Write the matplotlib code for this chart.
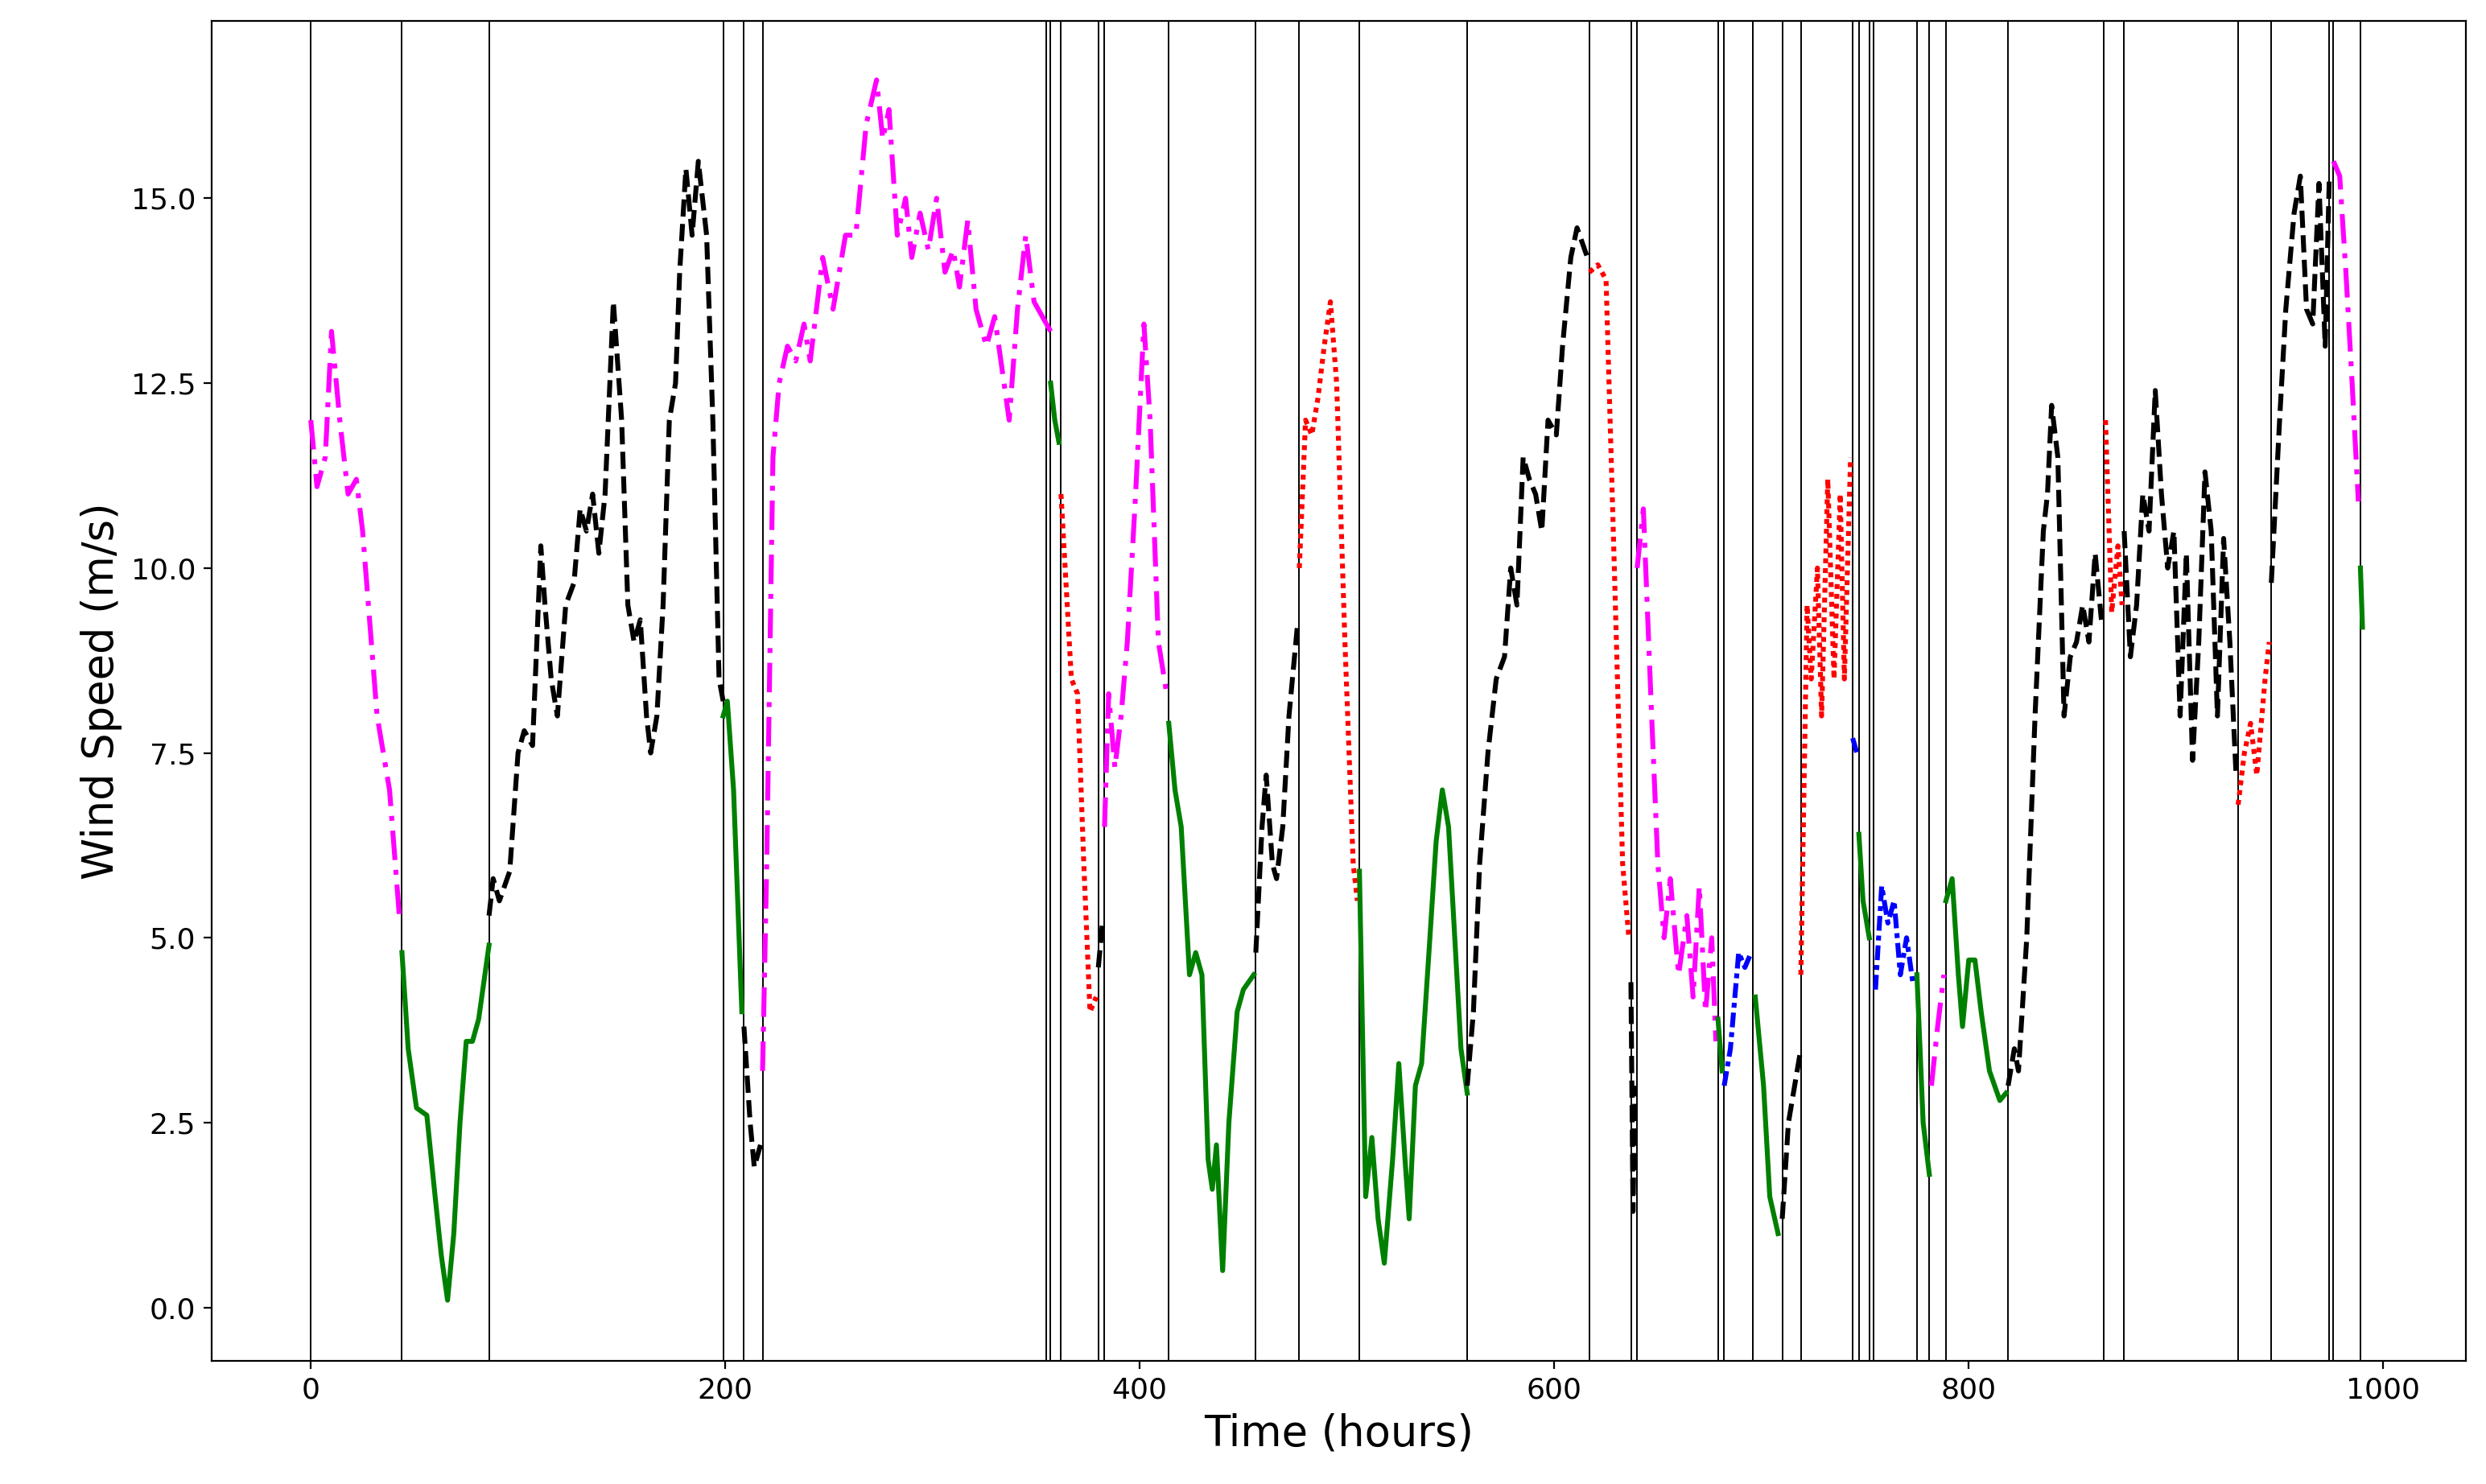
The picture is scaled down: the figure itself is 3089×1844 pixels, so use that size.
import matplotlib
matplotlib.use("Agg")
import matplotlib.pyplot as plt

# regime boundaries (hours)
boundaries = [0, 44, 86, 199, 209, 218, 355, 357, 362, 380, 383, 414, 456, 477, 506,
              558, 617, 637, 640, 679, 682, 696, 710, 719, 744, 747, 752, 754, 775,
              781, 789, 819, 865, 875, 930, 946, 974, 976, 989]

# each segment: (regime, hours, wind speed)
segments = [
    ("m", [0, 3, 7, 10, 14, 18, 22, 25, 32, 38, 43],
          [12.0, 11.1, 11.5, 13.2, 12.0, 11.0, 11.2, 10.5, 8.0, 7.0, 5.2]),
    ("g", [44, 47, 51, 56, 60, 63, 66, 69, 72, 75, 78, 81, 84, 86],
          [4.8, 3.5, 2.7, 2.6, 1.5, 0.7, 0.1, 1.0, 2.5, 3.6, 3.6, 3.9, 4.5, 4.9]),
    ("k", [86, 88, 91, 96, 100, 103, 107, 111, 113, 116, 119, 123, 127, 130, 133, 136, 139,
           142, 146, 150, 153, 156, 159, 162, 164, 167, 170, 173, 176, 178, 181, 184, 187,
           191, 194, 197, 199],
          [5.3, 5.8, 5.5, 5.9, 7.5, 7.8, 7.6, 10.3, 9.5, 8.5, 8.0, 9.5, 9.8, 10.8, 10.5, 11.0,
           10.2, 11.0, 13.6, 12.0, 9.5, 9.0, 9.3, 8.0, 7.5, 8.0, 9.5, 12.0, 12.5, 14.0, 15.4,
           14.5, 15.5, 14.5, 12.0, 8.5, 8.2]),
    ("g", [199, 201, 204, 208], [8.0, 8.2, 7.0, 4.0]),
    ("k", [209, 212, 214, 217], [3.8, 2.5, 1.9, 2.2]),
    ("m", [218, 220, 223, 226, 230, 234, 238, 241, 247, 252, 258, 263, 268, 273, 276, 279,
           283, 287, 290, 294, 298, 302, 306, 310, 313, 317, 321, 326, 330, 337, 341, 345,
           349, 355],
          [3.2, 6.0, 11.5, 12.5, 13.0, 12.8, 13.3, 12.8, 14.2, 13.5, 14.5, 14.5, 16.0, 16.6,
           15.8, 16.2, 14.5, 15.0, 14.2, 14.8, 14.3, 15.0, 14.0, 14.3, 13.8, 14.7, 13.5, 13.0,
           13.4, 12.0, 13.5, 14.5, 13.6, 13.3]),
    ("m", [355, 357], [13.3, 13.2]),
    ("g", [357, 359, 361], [12.5, 12.0, 11.7]),
    ("r", [362, 364, 367, 370, 373, 376, 379], [11.0, 10.0, 8.5, 8.3, 6.0, 4.0, 4.2]),
    ("k", [380, 382], [4.6, 5.2]),
    ("m", [383, 385, 388, 391, 394, 398, 402, 405, 409, 413],
          [6.5, 8.3, 7.3, 8.0, 9.0, 11.0, 13.3, 12.0, 9.0, 8.3]),
    ("g", [414, 417, 420, 424, 427, 430, 433, 435, 437, 440, 443, 447, 450, 455],
          [7.9, 7.0, 6.5, 4.5, 4.8, 4.5, 2.0, 1.6, 2.2, 0.5, 2.5, 4.0, 4.3, 4.5]),
    ("k", [456, 459, 461, 464, 466, 469, 472, 476], [4.8, 6.5, 7.2, 6.0, 5.8, 6.5, 8.0, 9.2]),
    ("r", [477, 480, 483, 486, 489, 492, 495, 499, 503, 505],
          [10.0, 12.0, 11.8, 12.3, 13.0, 13.6, 12.5, 9.0, 6.0, 5.5]),
    ("g", [506, 509, 512, 515, 518, 522, 525, 528, 530, 533, 536, 540, 543, 546, 549, 552,
           555, 558],
          [5.9, 1.5, 2.3, 1.2, 0.6, 2.0, 3.3, 2.0, 1.2, 3.0, 3.3, 5.0, 6.3, 7.0, 6.5, 5.0,
           3.5, 2.9]),
    ("k", [558, 561, 564, 568, 572, 576, 579, 582, 585, 588, 591, 594, 597, 601, 604, 608,
           611, 616],
          [3.0, 4.0, 6.0, 7.5, 8.5, 8.8, 10.0, 9.5, 11.5, 11.2, 11.0, 10.5, 12.0, 11.8, 13.0,
           14.2, 14.6, 14.2]),
    ("r", [617, 621, 625, 629, 633, 636], [14.0, 14.1, 13.9, 10.0, 6.0, 5.0]),
    ("k", [637, 638, 639], [4.4, 1.3, 3.0]),
    ("m", [640, 643, 647, 650, 653, 656, 660, 664, 667, 670, 673, 676, 678],
          [10.0, 10.8, 8.0, 6.0, 5.0, 5.8, 4.5, 5.3, 4.2, 5.7, 4.0, 5.0, 3.6]),
    ("g", [679, 681], [3.9, 3.2]),
    ("b", [682, 685, 689, 692, 695], [3.0, 3.5, 4.8, 4.6, 4.8]),
    ("g", [697, 701, 704, 708], [4.2, 3.0, 1.5, 1.0]),
    ("k", [710, 713, 716, 719], [1.2, 2.5, 3.0, 3.5]),
    ("r", [719, 722, 724, 727, 729, 732, 735, 738, 740, 743],
          [4.5, 9.5, 8.5, 10.0, 8.0, 11.2, 8.5, 11.0, 8.5, 11.5]),
    ("b", [744, 746], [7.7, 7.5]),
    ("g", [747, 749, 752], [6.4, 5.5, 5.0]),
    ("b", [755, 758, 761, 764, 767, 770, 773], [4.3, 5.7, 5.2, 5.5, 4.5, 5.0, 4.4]),
    ("g", [775, 778, 781], [4.5, 2.5, 1.8]),
    ("m", [782, 785, 788], [3.0, 3.8, 4.5]),
    ("g", [789, 792, 795, 797, 800, 803, 806, 810, 815, 818],
          [5.5, 5.8, 4.5, 3.8, 4.7, 4.7, 4.0, 3.2, 2.8, 2.9]),
    ("k", [819, 822, 824, 828, 832, 836, 838, 840, 843, 846, 849, 852, 855, 858, 861, 864],
          [3.0, 3.5, 3.2, 5.0, 8.0, 10.5, 11.0, 12.2, 11.5, 8.0, 8.8, 9.0, 9.5, 9.0, 10.2, 9.3]),
    ("r", [866, 869, 872, 874], [12.0, 9.4, 10.3, 9.5]),
    ("k", [875, 878, 881, 884, 887, 890, 893, 896, 899, 902, 905, 908, 911, 914, 917, 920,
           923, 926, 929],
          [10.5, 8.8, 9.5, 11.0, 10.5, 12.4, 11.0, 10.0, 10.5, 8.0, 10.2, 7.4, 9.0, 11.3,
           10.5, 8.0, 10.4, 9.0, 7.2]),
    ("r", [930, 933, 936, 939, 943, 945], [6.8, 7.5, 7.9, 7.2, 8.5, 9.0]),
    ("k", [946, 950, 953, 957, 960, 963, 966, 969, 972, 974],
          [9.8, 12.0, 13.5, 14.8, 15.3, 13.5, 13.3, 15.2, 13.0, 15.3]),
    ("m", [976, 979, 982, 985, 988], [15.5, 15.3, 14.0, 12.5, 10.9]),
    ("g", [989, 990], [10.0, 9.2]),
]

styles = {
    "m": dict(color="magenta", linestyle=(0, (6, 2, 1, 2))),
    "g": dict(color="green", linestyle="-"),
    "k": dict(color="black", linestyle=(0, (3.5, 1.5))),
    "r": dict(color="red", linestyle=(0, (1, 1))),
    "b": dict(color="blue", linestyle=(0, (3, 1, 1, 1))),
}

fig, ax = plt.subplots(figsize=(15.445, 9.22), dpi=200)
for b in boundaries:
    ax.axvline(b, color="black", linewidth=0.7)
for regime, t, v in segments:
    ax.plot(t, v, linewidth=2.2, **styles[regime])

ax.set_xlim(-48, 1040)
ax.set_ylim(-0.72, 17.4)
ax.set_xlabel("Time (hours)", fontsize=19)
ax.set_ylabel("Wind Speed (m/s)", fontsize=19)
ax.tick_params(labelsize=13)
plt.subplots_adjust(left=0.085, right=0.992, top=0.986, bottom=0.083)
plt.savefig("out.png", dpi=200)
